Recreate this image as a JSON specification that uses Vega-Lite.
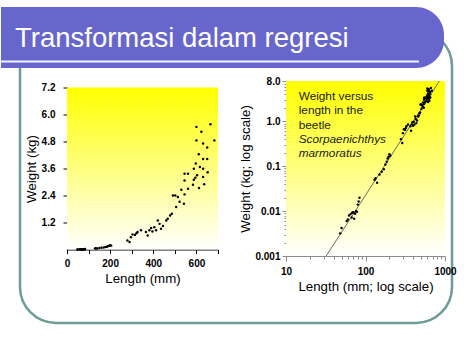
{
  "$schema": "https://vega.github.io/schema/vega-lite/v6.json",
  "padding": {"left": 0, "top": 7, "right": 0, "bottom": 0},
  "background": "white",
  "config": {
    "view": {"stroke": null},
    "font": "Liberation Sans",
    "axis": {"grid": false, "labelFont": "Liberation Sans", "titleFont": "Liberation Sans", "labelFlush": false, "labelOverlap": false, "zindex": 1}
  },
  "datasets": {
    "fish": [
      {"L": 48, "W": 0.0032}, {"L": 50, "W": 0.0042}, {"L": 58, "W": 0.006}, {"L": 60, "W": 0.0065},
      {"L": 62, "W": 0.008}, {"L": 65, "W": 0.0086}, {"L": 67, "W": 0.0072}, {"L": 68, "W": 0.0092},
      {"L": 70, "W": 0.0095}, {"L": 72, "W": 0.0068}, {"L": 74, "W": 0.0088}, {"L": 76, "W": 0.01},
      {"L": 78, "W": 0.0097}, {"L": 80, "W": 0.014}, {"L": 82, "W": 0.0165}, {"L": 84, "W": 0.02},
      {"L": 130, "W": 0.05}, {"L": 134, "W": 0.054}, {"L": 140, "W": 0.043}, {"L": 150, "W": 0.066},
      {"L": 160, "W": 0.076}, {"L": 170, "W": 0.086}, {"L": 178, "W": 0.11}, {"L": 185, "W": 0.126},
      {"L": 190, "W": 0.15}, {"L": 195, "W": 0.163}, {"L": 200, "W": 0.185}, {"L": 205, "W": 0.172},
      {"L": 280, "W": 0.4}, {"L": 290, "W": 0.33}, {"L": 296, "W": 0.55}, {"L": 304, "W": 0.67},
      {"L": 315, "W": 0.65}, {"L": 322, "W": 0.72}, {"L": 327, "W": 0.78}, {"L": 343, "W": 0.86},
      {"L": 366, "W": 0.78}, {"L": 374, "W": 0.62}, {"L": 382, "W": 0.86}, {"L": 390, "W": 0.96},
      {"L": 396, "W": 0.8}, {"L": 405, "W": 0.99}, {"L": 413, "W": 0.86}, {"L": 421, "W": 1.29},
      {"L": 429, "W": 1.14}, {"L": 436, "W": 0.92}, {"L": 445, "W": 1.05}, {"L": 460, "W": 1.29},
      {"L": 467, "W": 1.37}, {"L": 478, "W": 1.51}, {"L": 486, "W": 1.59}, {"L": 491, "W": 2.4},
      {"L": 502, "W": 2.4}, {"L": 506, "W": 1.89}, {"L": 514, "W": 2.33}, {"L": 522, "W": 2.12},
      {"L": 530, "W": 2.66}, {"L": 542, "W": 2.03}, {"L": 545, "W": 2.45}, {"L": 545, "W": 3.07},
      {"L": 545, "W": 3.37}, {"L": 561, "W": 3.37}, {"L": 561, "W": 2.7}, {"L": 584, "W": 2.88},
      {"L": 588, "W": 3.1}, {"L": 588, "W": 3.59}, {"L": 595, "W": 3.19}, {"L": 597, "W": 3.82},
      {"L": 600, "W": 4.85}, {"L": 600, "W": 5.45}, {"L": 603, "W": 3.3}, {"L": 611, "W": 4.23},
      {"L": 612, "W": 2.73}, {"L": 616, "W": 3.67}, {"L": 623, "W": 5.23}, {"L": 631, "W": 4.71},
      {"L": 631, "W": 4.02}, {"L": 631, "W": 3.59}, {"L": 631, "W": 3.22}, {"L": 636, "W": 2.9},
      {"L": 650, "W": 4.53}, {"L": 650, "W": 4.02}, {"L": 652, "W": 3.43}, {"L": 665, "W": 5.57},
      {"L": 683, "W": 4.85}
    ]
  },
  "bounds": "flush",
  "center": true,
  "spacing": 68,
  "hconcat": [
    {
      "width": 151,
      "height": 162,
      "resolve": {"scale": {"x": "independent", "y": "independent"}, "axis": {"x": "independent", "y": "independent"}},
      "layer": [
        {
          "data": {"values": [{}]},
          "layer": [
            {
              "mark": {"type": "rect", "filled": false, "color": "#6d9b96", "strokeWidth": 2.5, "cornerRadius": 36},
              "encoding": {
                "x": {"datum": 19, "type": "quantitative", "scale": {"domain": [66, 217], "nice": false, "zero": false}, "axis": null},
                "x2": {"datum": 451},
                "y": {"datum": 30, "type": "quantitative", "scale": {"domain": [87.5, 249.5], "reverse": true, "nice": false, "zero": false}, "axis": null},
                "y2": {"datum": 323}
              }
            },
            {
              "mark": {"type": "rect", "color": "#6666cc", "cornerRadiusTopRight": 28, "cornerRadiusBottomRight": 28},
              "encoding": {
                "x": {"datum": 0, "type": "quantitative", "scale": {"domain": [66, 217], "nice": false, "zero": false}, "axis": null},
                "x2": {"datum": 443},
                "y": {"datum": 7, "type": "quantitative", "scale": {"domain": [87.5, 249.5], "reverse": true, "nice": false, "zero": false}, "axis": null},
                "y2": {"datum": 68}
              }
            },
            {
              "mark": {"type": "rule", "color": "#f0f0ff", "strokeWidth": 2},
              "encoding": {
                "x": {"datum": 0, "type": "quantitative", "scale": {"domain": [66, 217], "nice": false, "zero": false}, "axis": null},
                "x2": {"datum": 418},
                "y": {"datum": 61.5, "type": "quantitative", "scale": {"domain": [87.5, 249.5], "reverse": true, "nice": false, "zero": false}, "axis": null}
              }
            },
            {
              "mark": {"type": "text", "text": "Transformasi dalam regresi", "align": "left", "baseline": "alphabetic", "fontSize": 27.5, "color": "white", "font": "Liberation Sans"},
              "encoding": {
                "x": {"datum": 14, "type": "quantitative", "scale": {"domain": [66, 217], "nice": false, "zero": false}, "axis": null},
                "y": {"datum": 47, "type": "quantitative", "scale": {"domain": [87.5, 249.5], "reverse": true, "nice": false, "zero": false}, "axis": null}
              }
            }
          ]
        },
        {
          "layer": [
            {
              "data": {"values": [{}]},
              "mark": {"type": "rect", "fill": {"gradient": "linear", "x1": 0, "y1": 0, "x2": 0, "y2": 1, "stops": [{"offset": 0, "color": "#ffff00"}, {"offset": 1, "color": "#ffffff"}]}},
              "encoding": {
                "x": {
                  "datum": 0, "type": "quantitative", "scale": {"domain": [0, 700], "nice": false},
                  "axis": {"orient": "bottom", "values": [0, 100, 200, 300, 400, 500, 600, 700], "labelExpr": "datum.value % 200 === 0 ? format(datum.value, 'd') : ''", "labelOverlap": false, "labelFontWeight": "bold", "labelFontSize": 10, "labelColor": "black", "tickColor": "black", "domainColor": "black", "tickSize": 4, "labelPadding": 5, "title": "Length (mm)", "titleFontSize": 13.3, "titleFontWeight": "normal", "titleColor": "black", "titlePadding": 3}
                },
                "x2": {"datum": 700},
                "y": {
                  "datum": 0, "type": "quantitative", "scale": {"domain": [0, 7.2], "nice": false},
                  "axis": {"orient": "left", "values": [1.2, 2.4, 3.6, 4.8, 6, 7.2], "format": ".1f", "labelOverlap": false, "labelFontWeight": "bold", "labelFontSize": 10, "labelColor": "black", "tickColor": "black", "domainColor": "black", "tickSize": 4, "labelPadding": 8, "title": "Weight (kg)", "titleFontSize": 13.3, "titleFontWeight": "normal", "titleColor": "black", "titlePadding": 3}
                },
                "y2": {"datum": 7.2}
              }
            },
            {
              "data": {"name": "fish"},
              "mark": {"type": "circle", "size": 6, "color": "black", "opacity": 1},
              "encoding": {
                "x": {
                  "field": "L", "type": "quantitative", "scale": {"domain": [0, 700], "nice": false},
                  "axis": {"orient": "bottom", "values": [0, 100, 200, 300, 400, 500, 600, 700], "labelExpr": "datum.value % 200 === 0 ? format(datum.value, 'd') : ''", "labelOverlap": false, "labelFontWeight": "bold", "labelFontSize": 10, "labelColor": "black", "tickColor": "black", "domainColor": "black", "tickSize": 4, "labelPadding": 5, "title": "Length (mm)", "titleFontSize": 13.3, "titleFontWeight": "normal", "titleColor": "black", "titlePadding": 3}
                },
                "y": {
                  "field": "W", "type": "quantitative", "scale": {"domain": [0, 7.2], "nice": false},
                  "axis": {"orient": "left", "values": [1.2, 2.4, 3.6, 4.8, 6, 7.2], "format": ".1f", "labelOverlap": false, "labelFontWeight": "bold", "labelFontSize": 10, "labelColor": "black", "tickColor": "black", "domainColor": "black", "tickSize": 4, "labelPadding": 8, "title": "Weight (kg)", "titleFontSize": 13.3, "titleFontWeight": "normal", "titleColor": "black", "titlePadding": 3}
                }
              }
            }
          ]
        }
      ]
    },
    {
      "width": 159,
      "height": 175,
      "layer": [
        {
          "data": {"values": [{}]},
          "mark": {"type": "rect", "fill": {"gradient": "linear", "x1": 0, "y1": 0, "x2": 0, "y2": 1, "stops": [{"offset": 0, "color": "#ffff00"}, {"offset": 1, "color": "#ffffff"}]}},
          "encoding": {
            "x": {"datum": 10, "type": "quantitative", "scale": {"type": "log", "domain": [10, 1000], "nice": false}},
            "x2": {"datum": 1000},
            "y": {"datum": 0.001, "type": "quantitative", "scale": {"type": "log", "domain": [0.001, 8], "nice": false}},
            "y2": {"datum": 8}
          }
        },
        {
          "data": {"values": [{"L": 32, "W": 0.001}, {"L": 850, "W": 8}]},
          "mark": {"type": "line", "color": "#6b6b5a", "strokeWidth": 1},
          "encoding": {
            "x": {"field": "L", "type": "quantitative"},
            "y": {"field": "W", "type": "quantitative"}
          }
        },
        {
          "data": {"name": "fish"},
          "mark": {"type": "circle", "size": 6, "color": "black", "opacity": 1},
          "encoding": {
            "x": {
              "field": "L", "type": "quantitative", "scale": {"type": "log", "domain": [10, 1000], "nice": false},
              "axis": {"orient": "bottom", "values": [10, 20, 30, 40, 50, 60, 70, 80, 90, 100, 200, 300, 400, 500, 600, 700, 800, 900, 1000], "labelExpr": "datum.value === 10 ? '10' : datum.value === 100 ? '100' : datum.value === 1000 ? '1000' : ''", "labelOverlap": false, "labelFontWeight": "bold", "labelFontSize": 10, "labelColor": "black", "tickColor": "#8a8a8a", "domainColor": "#8a8a8a", "tickSize": {"condition": {"test": "datum.value === 10 || datum.value === 100 || datum.value === 1000", "value": 5}, "value": 3}, "labelPadding": 5, "title": "Length (mm; log scale)", "titleFontSize": 13.3, "titleFontWeight": "normal", "titleColor": "black", "titlePadding": 3}
            },
            "y": {
              "field": "W", "type": "quantitative", "scale": {"type": "log", "domain": [0.001, 8], "nice": false},
              "axis": {"orient": "left", "values": [0.001, 0.002, 0.003, 0.004, 0.005, 0.006, 0.007, 0.008, 0.009, 0.01, 0.02, 0.03, 0.04, 0.05, 0.06, 0.07, 0.08, 0.09, 0.1, 0.2, 0.3, 0.4, 0.5, 0.6, 0.7, 0.8, 0.9, 1, 2, 3, 4, 5, 6, 7, 8], "labelExpr": "datum.value === 0.001 ? '0.001' : datum.value === 0.01 ? '0.01' : datum.value === 0.1 ? '0.1' : datum.value === 1 ? '1.0' : datum.value === 8 ? '8.0' : ''", "labelOverlap": false, "labelFontWeight": "bold", "labelFontSize": 10, "labelColor": "black", "tickColor": "#8a8a8a", "domainColor": "#8a8a8a", "tickSize": {"condition": {"test": "datum.value === 0.001 || datum.value === 0.01 || datum.value === 0.1 || datum.value === 1 || datum.value === 8", "value": 4}, "value": 2}, "labelPadding": 2, "title": "Weight (kg; log scale)", "titleFontSize": 13.3, "titleFontWeight": "normal", "titleColor": "black", "titlePadding": 2}
            }
          }
        },
        {
          "data": {"values": [{"t": "Weight versus\nlength in the\nbeetle"}]},
          "mark": {"type": "text", "align": "left", "baseline": "alphabetic", "fontSize": 11.8, "lineHeight": 14.2, "lineBreak": "\n", "color": "#1a1a1a", "font": "Liberation Sans"},
          "encoding": {
            "text": {"field": "t"},
            "x": {"datum": 14.45, "type": "quantitative"},
            "y": {"datum": 2.97, "type": "quantitative"}
          }
        },
        {
          "data": {"values": [{"t": "Scorpaenichthys\nmarmoratus"}]},
          "mark": {"type": "text", "align": "left", "baseline": "alphabetic", "fontSize": 11.8, "lineHeight": 14.2, "lineBreak": "\n", "fontStyle": "italic", "color": "#1a1a1a", "font": "Liberation Sans"},
          "encoding": {
            "text": {"field": "t"},
            "x": {"datum": 14.45, "type": "quantitative"},
            "y": {"datum": 0.332, "type": "quantitative"}
          }
        }
      ]
    }
  ]
}
